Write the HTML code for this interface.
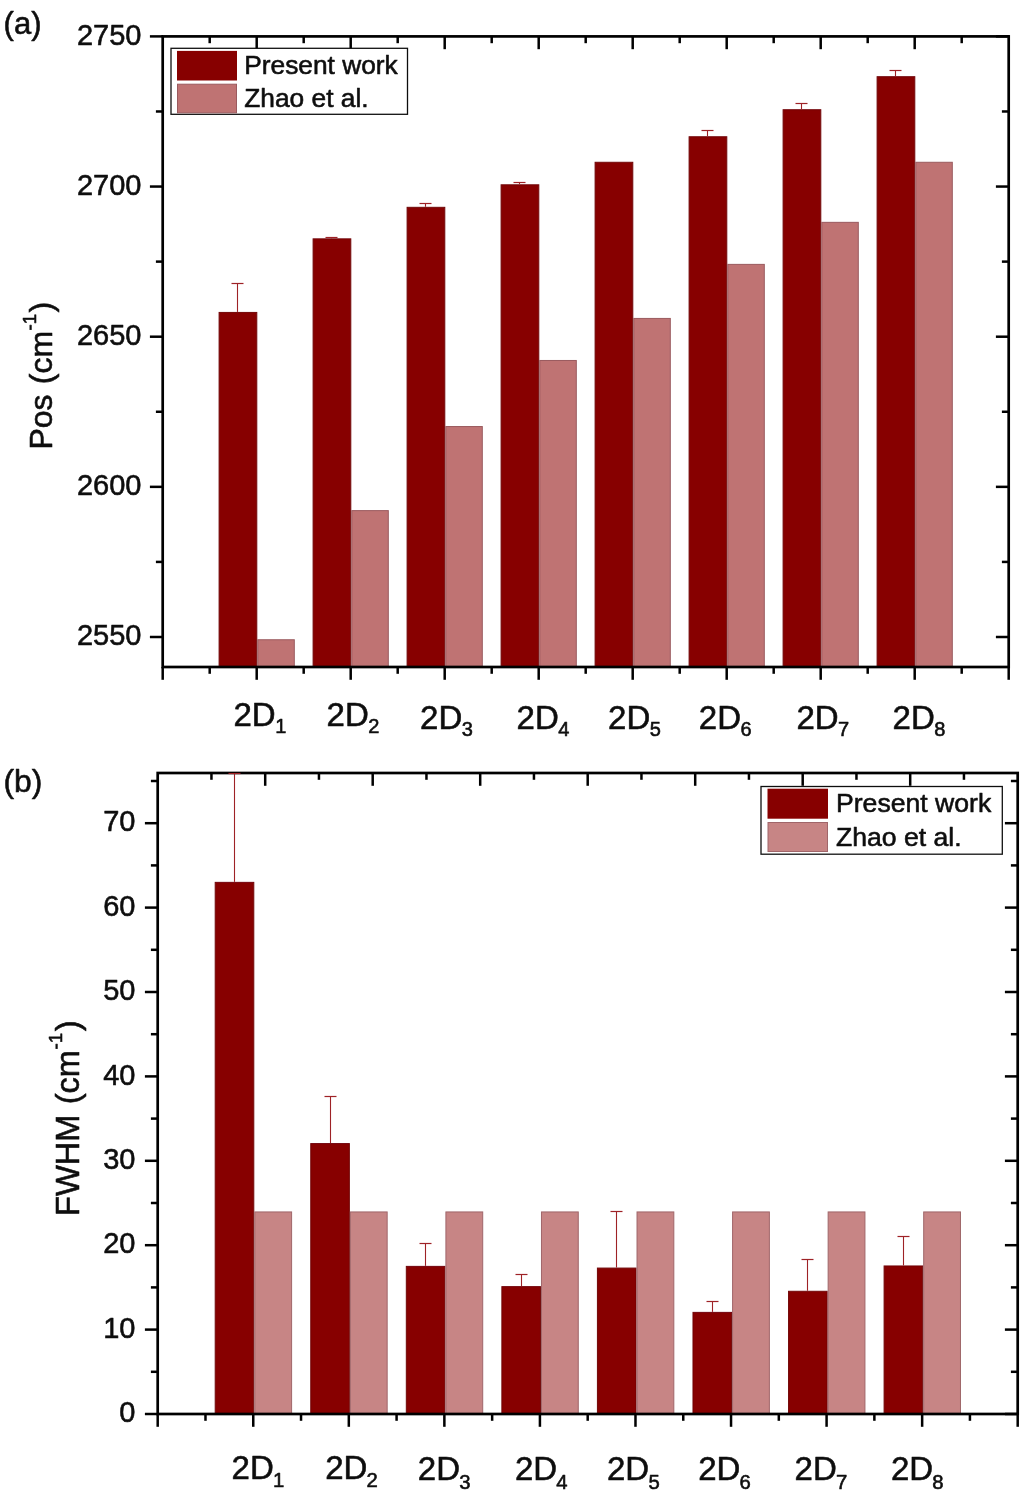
<!DOCTYPE html>
<html><head><meta charset="utf-8"><title>Figure</title>
<style>html,body{margin:0;padding:0;background:#fff;overflow:hidden}svg{display:block}text{stroke:#111;stroke-width:.6px;stroke-linejoin:round}</style></head>
<body>
<svg width="1025" height="1495" viewBox="0 0 1025 1495" font-family='"Liberation Sans", sans-serif' fill="#111">
<defs><filter id="soft" x="0" y="0" width="100%" height="100%" filterUnits="userSpaceOnUse"><feGaussianBlur stdDeviation="0.45"/></filter></defs>
<g filter="url(#soft)">
<rect x="0.00" y="0.00" width="1025.00" height="1495.00" fill="#fff" stroke="none" stroke-width="1"/>
<rect x="219.10" y="312.43" width="37.70" height="354.57" fill="#870000" stroke="#72060A" stroke-width="1"/>
<rect x="257.80" y="639.75" width="36.50" height="27.25" fill="#BF7373" stroke="#9A5A5E" stroke-width="1"/>
<rect x="313.10" y="238.85" width="37.70" height="428.15" fill="#870000" stroke="#72060A" stroke-width="1"/>
<rect x="351.80" y="510.62" width="36.50" height="156.38" fill="#BF7373" stroke="#9A5A5E" stroke-width="1"/>
<rect x="407.10" y="207.32" width="37.70" height="459.68" fill="#870000" stroke="#72060A" stroke-width="1"/>
<rect x="445.80" y="426.54" width="36.50" height="240.46" fill="#BF7373" stroke="#9A5A5E" stroke-width="1"/>
<rect x="501.10" y="184.80" width="37.70" height="482.20" fill="#870000" stroke="#72060A" stroke-width="1"/>
<rect x="539.80" y="360.47" width="36.50" height="306.53" fill="#BF7373" stroke="#9A5A5E" stroke-width="1"/>
<rect x="595.10" y="162.28" width="37.70" height="504.72" fill="#870000" stroke="#72060A" stroke-width="1"/>
<rect x="633.80" y="318.43" width="36.50" height="348.57" fill="#BF7373" stroke="#9A5A5E" stroke-width="1"/>
<rect x="689.10" y="136.75" width="37.70" height="530.25" fill="#870000" stroke="#72060A" stroke-width="1"/>
<rect x="727.80" y="264.38" width="36.50" height="402.62" fill="#BF7373" stroke="#9A5A5E" stroke-width="1"/>
<rect x="783.10" y="109.72" width="37.70" height="557.28" fill="#870000" stroke="#72060A" stroke-width="1"/>
<rect x="821.80" y="222.34" width="36.50" height="444.66" fill="#BF7373" stroke="#9A5A5E" stroke-width="1"/>
<rect x="877.10" y="76.69" width="37.70" height="590.31" fill="#870000" stroke="#72060A" stroke-width="1"/>
<rect x="915.80" y="162.28" width="36.50" height="504.72" fill="#BF7373" stroke="#9A5A5E" stroke-width="1"/>
<rect x="162.7" y="36.4" width="846.0" height="630.6" fill="none" stroke="#000" stroke-width="2.7"/>
<line x1="237.50" y1="311.93" x2="237.50" y2="283.50" stroke="#9E2228" stroke-width="1.1" />
<line x1="231.50" y1="283.50" x2="243.50" y2="283.50" stroke="#9E2228" stroke-width="1.2" />
<line x1="331.50" y1="238.35" x2="331.50" y2="237.50" stroke="#9E2228" stroke-width="1.1" />
<line x1="325.50" y1="237.50" x2="337.50" y2="237.50" stroke="#9E2228" stroke-width="1.2" />
<line x1="425.50" y1="206.82" x2="425.50" y2="203.50" stroke="#9E2228" stroke-width="1.1" />
<line x1="419.50" y1="203.50" x2="431.50" y2="203.50" stroke="#9E2228" stroke-width="1.2" />
<line x1="519.50" y1="184.30" x2="519.50" y2="182.50" stroke="#9E2228" stroke-width="1.1" />
<line x1="513.50" y1="182.50" x2="525.50" y2="182.50" stroke="#9E2228" stroke-width="1.2" />
<line x1="707.50" y1="136.25" x2="707.50" y2="130.50" stroke="#9E2228" stroke-width="1.1" />
<line x1="701.50" y1="130.50" x2="713.50" y2="130.50" stroke="#9E2228" stroke-width="1.2" />
<line x1="801.50" y1="109.22" x2="801.50" y2="103.50" stroke="#9E2228" stroke-width="1.1" />
<line x1="795.50" y1="103.50" x2="807.50" y2="103.50" stroke="#9E2228" stroke-width="1.2" />
<line x1="895.50" y1="76.19" x2="895.50" y2="70.50" stroke="#9E2228" stroke-width="1.1" />
<line x1="889.50" y1="70.50" x2="901.50" y2="70.50" stroke="#9E2228" stroke-width="1.2" />
<line x1="149.90" y1="36.40" x2="162.70" y2="36.40" stroke="#000" stroke-width="2.5" />
<line x1="995.90" y1="36.40" x2="1008.70" y2="36.40" stroke="#000" stroke-width="2.5" />
<text x="141.40" y="44.60" font-size="29" text-anchor="end" >2750</text>
<line x1="155.90" y1="111.48" x2="162.70" y2="111.48" stroke="#000" stroke-width="2.5" />
<line x1="1001.90" y1="111.48" x2="1008.70" y2="111.48" stroke="#000" stroke-width="2.5" />
<line x1="149.90" y1="186.55" x2="162.70" y2="186.55" stroke="#000" stroke-width="2.5" />
<line x1="995.90" y1="186.55" x2="1008.70" y2="186.55" stroke="#000" stroke-width="2.5" />
<text x="141.40" y="194.75" font-size="29" text-anchor="end" >2700</text>
<line x1="155.90" y1="261.62" x2="162.70" y2="261.62" stroke="#000" stroke-width="2.5" />
<line x1="1001.90" y1="261.62" x2="1008.70" y2="261.62" stroke="#000" stroke-width="2.5" />
<line x1="149.90" y1="336.70" x2="162.70" y2="336.70" stroke="#000" stroke-width="2.5" />
<line x1="995.90" y1="336.70" x2="1008.70" y2="336.70" stroke="#000" stroke-width="2.5" />
<text x="141.40" y="344.90" font-size="29" text-anchor="end" >2650</text>
<line x1="155.90" y1="411.77" x2="162.70" y2="411.77" stroke="#000" stroke-width="2.5" />
<line x1="1001.90" y1="411.77" x2="1008.70" y2="411.77" stroke="#000" stroke-width="2.5" />
<line x1="149.90" y1="486.85" x2="162.70" y2="486.85" stroke="#000" stroke-width="2.5" />
<line x1="995.90" y1="486.85" x2="1008.70" y2="486.85" stroke="#000" stroke-width="2.5" />
<text x="141.40" y="495.05" font-size="29" text-anchor="end" >2600</text>
<line x1="155.90" y1="561.92" x2="162.70" y2="561.92" stroke="#000" stroke-width="2.5" />
<line x1="1001.90" y1="561.92" x2="1008.70" y2="561.92" stroke="#000" stroke-width="2.5" />
<line x1="149.90" y1="637.00" x2="162.70" y2="637.00" stroke="#000" stroke-width="2.5" />
<line x1="995.90" y1="637.00" x2="1008.70" y2="637.00" stroke="#000" stroke-width="2.5" />
<text x="141.40" y="645.20" font-size="29" text-anchor="end" >2550</text>
<line x1="162.70" y1="667.00" x2="162.70" y2="679.80" stroke="#000" stroke-width="2.5" />
<line x1="209.70" y1="667.00" x2="209.70" y2="673.80" stroke="#000" stroke-width="2.5" />
<line x1="256.70" y1="667.00" x2="256.70" y2="679.80" stroke="#000" stroke-width="2.5" />
<line x1="303.70" y1="667.00" x2="303.70" y2="673.80" stroke="#000" stroke-width="2.5" />
<line x1="350.70" y1="667.00" x2="350.70" y2="679.80" stroke="#000" stroke-width="2.5" />
<line x1="397.70" y1="667.00" x2="397.70" y2="673.80" stroke="#000" stroke-width="2.5" />
<line x1="444.70" y1="667.00" x2="444.70" y2="679.80" stroke="#000" stroke-width="2.5" />
<line x1="491.70" y1="667.00" x2="491.70" y2="673.80" stroke="#000" stroke-width="2.5" />
<line x1="538.70" y1="667.00" x2="538.70" y2="679.80" stroke="#000" stroke-width="2.5" />
<line x1="585.70" y1="667.00" x2="585.70" y2="673.80" stroke="#000" stroke-width="2.5" />
<line x1="632.70" y1="667.00" x2="632.70" y2="679.80" stroke="#000" stroke-width="2.5" />
<line x1="679.70" y1="667.00" x2="679.70" y2="673.80" stroke="#000" stroke-width="2.5" />
<line x1="726.70" y1="667.00" x2="726.70" y2="679.80" stroke="#000" stroke-width="2.5" />
<line x1="773.70" y1="667.00" x2="773.70" y2="673.80" stroke="#000" stroke-width="2.5" />
<line x1="820.70" y1="667.00" x2="820.70" y2="679.80" stroke="#000" stroke-width="2.5" />
<line x1="867.70" y1="667.00" x2="867.70" y2="673.80" stroke="#000" stroke-width="2.5" />
<line x1="914.70" y1="667.00" x2="914.70" y2="679.80" stroke="#000" stroke-width="2.5" />
<line x1="961.70" y1="667.00" x2="961.70" y2="673.80" stroke="#000" stroke-width="2.5" />
<line x1="1008.70" y1="667.00" x2="1008.70" y2="679.80" stroke="#000" stroke-width="2.5" />
<line x1="209.70" y1="36.40" x2="209.70" y2="43.20" stroke="#000" stroke-width="2.5" />
<line x1="256.70" y1="36.40" x2="256.70" y2="49.20" stroke="#000" stroke-width="2.5" />
<line x1="303.70" y1="36.40" x2="303.70" y2="43.20" stroke="#000" stroke-width="2.5" />
<line x1="350.70" y1="36.40" x2="350.70" y2="49.20" stroke="#000" stroke-width="2.5" />
<line x1="397.70" y1="36.40" x2="397.70" y2="43.20" stroke="#000" stroke-width="2.5" />
<line x1="444.70" y1="36.40" x2="444.70" y2="49.20" stroke="#000" stroke-width="2.5" />
<line x1="491.70" y1="36.40" x2="491.70" y2="43.20" stroke="#000" stroke-width="2.5" />
<line x1="538.70" y1="36.40" x2="538.70" y2="49.20" stroke="#000" stroke-width="2.5" />
<line x1="585.70" y1="36.40" x2="585.70" y2="43.20" stroke="#000" stroke-width="2.5" />
<line x1="632.70" y1="36.40" x2="632.70" y2="49.20" stroke="#000" stroke-width="2.5" />
<line x1="679.70" y1="36.40" x2="679.70" y2="43.20" stroke="#000" stroke-width="2.5" />
<line x1="726.70" y1="36.40" x2="726.70" y2="49.20" stroke="#000" stroke-width="2.5" />
<line x1="773.70" y1="36.40" x2="773.70" y2="43.20" stroke="#000" stroke-width="2.5" />
<line x1="820.70" y1="36.40" x2="820.70" y2="49.20" stroke="#000" stroke-width="2.5" />
<line x1="867.70" y1="36.40" x2="867.70" y2="43.20" stroke="#000" stroke-width="2.5" />
<line x1="914.70" y1="36.40" x2="914.70" y2="49.20" stroke="#000" stroke-width="2.5" />
<line x1="961.70" y1="36.40" x2="961.70" y2="43.20" stroke="#000" stroke-width="2.5" />
<text x="233.50" y="726.20" font-size="33">2D<tspan font-size="20" dy="7.0" dx="-0.5">1</tspan></text>
<text x="326.60" y="726.20" font-size="33">2D<tspan font-size="20" dy="7.0" dx="-0.5">2</tspan></text>
<text x="420.10" y="728.50" font-size="33">2D<tspan font-size="20" dy="7.9" dx="-0.5">3</tspan></text>
<text x="516.60" y="728.50" font-size="33">2D<tspan font-size="20" dy="7.9" dx="-0.5">4</tspan></text>
<text x="608.10" y="728.50" font-size="33">2D<tspan font-size="20" dy="7.9" dx="-0.5">5</tspan></text>
<text x="698.80" y="728.50" font-size="33">2D<tspan font-size="20" dy="7.9" dx="-0.5">6</tspan></text>
<text x="796.40" y="728.50" font-size="33">2D<tspan font-size="20" dy="7.9" dx="-0.5">7</tspan></text>
<text x="892.60" y="728.50" font-size="33">2D<tspan font-size="20" dy="7.9" dx="-0.5">8</tspan></text>
<text transform="translate(51.6,449.6) rotate(-90)" font-size="32" text-anchor="start">Pos <tspan dx="1.3">(cm</tspan><tspan font-size="18.5" dy="-15.5" dx="0.5">-1</tspan><tspan dy="15.5" dx="1.6">)</tspan></text>
<text x="3.60" y="34.30" font-size="31" text-anchor="start" >(a)</text>
<rect x="171.00" y="48.30" width="236.50" height="66.00" fill="#fff" stroke="#111" stroke-width="1.3"/>
<rect x="177.00" y="50.90" width="60.00" height="29.60" fill="#870000" stroke="none" stroke-width="1"/>
<rect x="177.50" y="84.20" width="59.00" height="28.60" fill="#BF7373" stroke="#9A5A5E" stroke-width="1"/>
<text x="244.30" y="73.50" font-size="26.3" text-anchor="start" >Present work</text>
<text x="244.30" y="107.20" font-size="26.3" text-anchor="start" >Zhao et al.</text>
<rect x="215.20" y="882.36" width="38.60" height="531.64" fill="#870000" stroke="#72060A" stroke-width="1"/>
<rect x="254.80" y="1211.94" width="36.80" height="202.06" fill="#C78585" stroke="#A0666A" stroke-width="1"/>
<rect x="310.76" y="1143.58" width="38.60" height="270.42" fill="#870000" stroke="#72060A" stroke-width="1"/>
<rect x="350.36" y="1211.94" width="36.80" height="202.06" fill="#C78585" stroke="#A0666A" stroke-width="1"/>
<rect x="406.31" y="1266.38" width="38.60" height="147.62" fill="#870000" stroke="#72060A" stroke-width="1"/>
<rect x="445.91" y="1211.94" width="36.80" height="202.06" fill="#C78585" stroke="#A0666A" stroke-width="1"/>
<rect x="501.87" y="1286.63" width="38.60" height="127.37" fill="#870000" stroke="#72060A" stroke-width="1"/>
<rect x="541.47" y="1211.94" width="36.80" height="202.06" fill="#C78585" stroke="#A0666A" stroke-width="1"/>
<rect x="597.42" y="1268.07" width="38.60" height="145.93" fill="#870000" stroke="#72060A" stroke-width="1"/>
<rect x="637.02" y="1211.94" width="36.80" height="202.06" fill="#C78585" stroke="#A0666A" stroke-width="1"/>
<rect x="692.98" y="1312.38" width="38.60" height="101.62" fill="#870000" stroke="#72060A" stroke-width="1"/>
<rect x="732.58" y="1211.94" width="36.80" height="202.06" fill="#C78585" stroke="#A0666A" stroke-width="1"/>
<rect x="788.54" y="1291.28" width="38.60" height="122.72" fill="#870000" stroke="#72060A" stroke-width="1"/>
<rect x="828.14" y="1211.94" width="36.80" height="202.06" fill="#C78585" stroke="#A0666A" stroke-width="1"/>
<rect x="884.09" y="1265.96" width="38.60" height="148.04" fill="#870000" stroke="#72060A" stroke-width="1"/>
<rect x="923.69" y="1211.94" width="36.80" height="202.06" fill="#C78585" stroke="#A0666A" stroke-width="1"/>
<rect x="157.7" y="773" width="860.0" height="641" fill="none" stroke="#000" stroke-width="2.7"/>
<line x1="234.50" y1="881.86" x2="234.50" y2="773.50" stroke="#9E2228" stroke-width="1.1" />
<line x1="228.50" y1="773.50" x2="240.50" y2="773.50" stroke="#9E2228" stroke-width="1.2" />
<line x1="330.50" y1="1143.08" x2="330.50" y2="1096.50" stroke="#9E2228" stroke-width="1.1" />
<line x1="324.50" y1="1096.50" x2="336.50" y2="1096.50" stroke="#9E2228" stroke-width="1.2" />
<line x1="425.50" y1="1265.88" x2="425.50" y2="1243.50" stroke="#9E2228" stroke-width="1.1" />
<line x1="419.50" y1="1243.50" x2="431.50" y2="1243.50" stroke="#9E2228" stroke-width="1.2" />
<line x1="521.50" y1="1286.13" x2="521.50" y2="1274.50" stroke="#9E2228" stroke-width="1.1" />
<line x1="515.50" y1="1274.50" x2="527.50" y2="1274.50" stroke="#9E2228" stroke-width="1.2" />
<line x1="616.50" y1="1267.57" x2="616.50" y2="1211.50" stroke="#9E2228" stroke-width="1.1" />
<line x1="610.50" y1="1211.50" x2="622.50" y2="1211.50" stroke="#9E2228" stroke-width="1.2" />
<line x1="712.50" y1="1311.88" x2="712.50" y2="1301.50" stroke="#9E2228" stroke-width="1.1" />
<line x1="706.50" y1="1301.50" x2="718.50" y2="1301.50" stroke="#9E2228" stroke-width="1.2" />
<line x1="807.50" y1="1290.78" x2="807.50" y2="1259.50" stroke="#9E2228" stroke-width="1.1" />
<line x1="801.50" y1="1259.50" x2="813.50" y2="1259.50" stroke="#9E2228" stroke-width="1.2" />
<line x1="903.50" y1="1265.46" x2="903.50" y2="1236.50" stroke="#9E2228" stroke-width="1.1" />
<line x1="897.50" y1="1236.50" x2="909.50" y2="1236.50" stroke="#9E2228" stroke-width="1.2" />
<line x1="144.90" y1="1414.00" x2="157.70" y2="1414.00" stroke="#000" stroke-width="2.5" />
<line x1="1004.90" y1="1414.00" x2="1017.70" y2="1414.00" stroke="#000" stroke-width="2.5" />
<text x="135.50" y="1422.10" font-size="29" text-anchor="end" >0</text>
<line x1="150.90" y1="1371.80" x2="157.70" y2="1371.80" stroke="#000" stroke-width="2.5" />
<line x1="1010.90" y1="1371.80" x2="1017.70" y2="1371.80" stroke="#000" stroke-width="2.5" />
<line x1="144.90" y1="1329.60" x2="157.70" y2="1329.60" stroke="#000" stroke-width="2.5" />
<line x1="1004.90" y1="1329.60" x2="1017.70" y2="1329.60" stroke="#000" stroke-width="2.5" />
<text x="135.50" y="1337.70" font-size="29" text-anchor="end" >10</text>
<line x1="150.90" y1="1287.40" x2="157.70" y2="1287.40" stroke="#000" stroke-width="2.5" />
<line x1="1010.90" y1="1287.40" x2="1017.70" y2="1287.40" stroke="#000" stroke-width="2.5" />
<line x1="144.90" y1="1245.20" x2="157.70" y2="1245.20" stroke="#000" stroke-width="2.5" />
<line x1="1004.90" y1="1245.20" x2="1017.70" y2="1245.20" stroke="#000" stroke-width="2.5" />
<text x="135.50" y="1253.30" font-size="29" text-anchor="end" >20</text>
<line x1="150.90" y1="1203.00" x2="157.70" y2="1203.00" stroke="#000" stroke-width="2.5" />
<line x1="1010.90" y1="1203.00" x2="1017.70" y2="1203.00" stroke="#000" stroke-width="2.5" />
<line x1="144.90" y1="1160.80" x2="157.70" y2="1160.80" stroke="#000" stroke-width="2.5" />
<line x1="1004.90" y1="1160.80" x2="1017.70" y2="1160.80" stroke="#000" stroke-width="2.5" />
<text x="135.50" y="1168.90" font-size="29" text-anchor="end" >30</text>
<line x1="150.90" y1="1118.60" x2="157.70" y2="1118.60" stroke="#000" stroke-width="2.5" />
<line x1="1010.90" y1="1118.60" x2="1017.70" y2="1118.60" stroke="#000" stroke-width="2.5" />
<line x1="144.90" y1="1076.40" x2="157.70" y2="1076.40" stroke="#000" stroke-width="2.5" />
<line x1="1004.90" y1="1076.40" x2="1017.70" y2="1076.40" stroke="#000" stroke-width="2.5" />
<text x="135.50" y="1084.50" font-size="29" text-anchor="end" >40</text>
<line x1="150.90" y1="1034.20" x2="157.70" y2="1034.20" stroke="#000" stroke-width="2.5" />
<line x1="1010.90" y1="1034.20" x2="1017.70" y2="1034.20" stroke="#000" stroke-width="2.5" />
<line x1="144.90" y1="992.00" x2="157.70" y2="992.00" stroke="#000" stroke-width="2.5" />
<line x1="1004.90" y1="992.00" x2="1017.70" y2="992.00" stroke="#000" stroke-width="2.5" />
<text x="135.50" y="1000.10" font-size="29" text-anchor="end" >50</text>
<line x1="150.90" y1="949.80" x2="157.70" y2="949.80" stroke="#000" stroke-width="2.5" />
<line x1="1010.90" y1="949.80" x2="1017.70" y2="949.80" stroke="#000" stroke-width="2.5" />
<line x1="144.90" y1="907.60" x2="157.70" y2="907.60" stroke="#000" stroke-width="2.5" />
<line x1="1004.90" y1="907.60" x2="1017.70" y2="907.60" stroke="#000" stroke-width="2.5" />
<text x="135.50" y="915.70" font-size="29" text-anchor="end" >60</text>
<line x1="150.90" y1="865.40" x2="157.70" y2="865.40" stroke="#000" stroke-width="2.5" />
<line x1="1010.90" y1="865.40" x2="1017.70" y2="865.40" stroke="#000" stroke-width="2.5" />
<line x1="144.90" y1="823.20" x2="157.70" y2="823.20" stroke="#000" stroke-width="2.5" />
<line x1="1004.90" y1="823.20" x2="1017.70" y2="823.20" stroke="#000" stroke-width="2.5" />
<text x="135.50" y="831.30" font-size="29" text-anchor="end" >70</text>
<line x1="150.90" y1="781.00" x2="157.70" y2="781.00" stroke="#000" stroke-width="2.5" />
<line x1="1010.90" y1="781.00" x2="1017.70" y2="781.00" stroke="#000" stroke-width="2.5" />
<line x1="157.70" y1="1414.00" x2="157.70" y2="1426.80" stroke="#000" stroke-width="2.5" />
<line x1="205.48" y1="1414.00" x2="205.48" y2="1420.80" stroke="#000" stroke-width="2.5" />
<line x1="253.26" y1="1414.00" x2="253.26" y2="1426.80" stroke="#000" stroke-width="2.5" />
<line x1="301.03" y1="1414.00" x2="301.03" y2="1420.80" stroke="#000" stroke-width="2.5" />
<line x1="348.81" y1="1414.00" x2="348.81" y2="1426.80" stroke="#000" stroke-width="2.5" />
<line x1="396.59" y1="1414.00" x2="396.59" y2="1420.80" stroke="#000" stroke-width="2.5" />
<line x1="444.37" y1="1414.00" x2="444.37" y2="1426.80" stroke="#000" stroke-width="2.5" />
<line x1="492.15" y1="1414.00" x2="492.15" y2="1420.80" stroke="#000" stroke-width="2.5" />
<line x1="539.92" y1="1414.00" x2="539.92" y2="1426.80" stroke="#000" stroke-width="2.5" />
<line x1="587.70" y1="1414.00" x2="587.70" y2="1420.80" stroke="#000" stroke-width="2.5" />
<line x1="635.48" y1="1414.00" x2="635.48" y2="1426.80" stroke="#000" stroke-width="2.5" />
<line x1="683.26" y1="1414.00" x2="683.26" y2="1420.80" stroke="#000" stroke-width="2.5" />
<line x1="731.04" y1="1414.00" x2="731.04" y2="1426.80" stroke="#000" stroke-width="2.5" />
<line x1="778.81" y1="1414.00" x2="778.81" y2="1420.80" stroke="#000" stroke-width="2.5" />
<line x1="826.59" y1="1414.00" x2="826.59" y2="1426.80" stroke="#000" stroke-width="2.5" />
<line x1="874.37" y1="1414.00" x2="874.37" y2="1420.80" stroke="#000" stroke-width="2.5" />
<line x1="922.15" y1="1414.00" x2="922.15" y2="1426.80" stroke="#000" stroke-width="2.5" />
<line x1="969.93" y1="1414.00" x2="969.93" y2="1420.80" stroke="#000" stroke-width="2.5" />
<line x1="1017.70" y1="1414.00" x2="1017.70" y2="1426.80" stroke="#000" stroke-width="2.5" />
<line x1="211.45" y1="773.00" x2="211.45" y2="779.80" stroke="#000" stroke-width="2.5" />
<line x1="265.20" y1="773.00" x2="265.20" y2="785.80" stroke="#000" stroke-width="2.5" />
<line x1="318.95" y1="773.00" x2="318.95" y2="779.80" stroke="#000" stroke-width="2.5" />
<line x1="372.70" y1="773.00" x2="372.70" y2="785.80" stroke="#000" stroke-width="2.5" />
<line x1="426.45" y1="773.00" x2="426.45" y2="779.80" stroke="#000" stroke-width="2.5" />
<line x1="480.20" y1="773.00" x2="480.20" y2="785.80" stroke="#000" stroke-width="2.5" />
<line x1="533.95" y1="773.00" x2="533.95" y2="779.80" stroke="#000" stroke-width="2.5" />
<line x1="587.70" y1="773.00" x2="587.70" y2="785.80" stroke="#000" stroke-width="2.5" />
<line x1="641.45" y1="773.00" x2="641.45" y2="779.80" stroke="#000" stroke-width="2.5" />
<line x1="695.20" y1="773.00" x2="695.20" y2="785.80" stroke="#000" stroke-width="2.5" />
<line x1="748.95" y1="773.00" x2="748.95" y2="779.80" stroke="#000" stroke-width="2.5" />
<line x1="802.70" y1="773.00" x2="802.70" y2="785.80" stroke="#000" stroke-width="2.5" />
<line x1="856.45" y1="773.00" x2="856.45" y2="779.80" stroke="#000" stroke-width="2.5" />
<line x1="910.20" y1="773.00" x2="910.20" y2="785.80" stroke="#000" stroke-width="2.5" />
<line x1="963.95" y1="773.00" x2="963.95" y2="779.80" stroke="#000" stroke-width="2.5" />
<text x="231.60" y="1478.60" font-size="33">2D<tspan font-size="20.3" dy="8.1" dx="-0.8">1</tspan></text>
<text x="325.20" y="1478.60" font-size="33">2D<tspan font-size="20.3" dy="8.1" dx="-0.8">2</tspan></text>
<text x="417.80" y="1480.20" font-size="33">2D<tspan font-size="20.3" dy="8.5" dx="-0.8">3</tspan></text>
<text x="514.90" y="1480.20" font-size="33">2D<tspan font-size="20.3" dy="8.5" dx="-0.8">4</tspan></text>
<text x="607.00" y="1480.20" font-size="33">2D<tspan font-size="20.3" dy="8.5" dx="-0.8">5</tspan></text>
<text x="698.20" y="1480.20" font-size="33">2D<tspan font-size="20.3" dy="8.5" dx="-0.8">6</tspan></text>
<text x="794.60" y="1480.20" font-size="33">2D<tspan font-size="20.3" dy="8.5" dx="-0.8">7</tspan></text>
<text x="890.90" y="1480.20" font-size="33">2D<tspan font-size="20.3" dy="8.5" dx="-0.8">8</tspan></text>
<text transform="translate(78.6,1216.0) rotate(-90)" font-size="32.6" text-anchor="start">FWHM <tspan dx="1.3">(cm</tspan><tspan font-size="18.8" dy="-16.5" dx="0.5">-1</tspan><tspan dy="16.5" dx="1.6">)</tspan></text>
<text x="3.40" y="791.60" font-size="31.8" text-anchor="start" >(b)</text>
<rect x="761.00" y="786.50" width="241.30" height="67.70" fill="#fff" stroke="#111" stroke-width="1.3"/>
<rect x="767.50" y="788.70" width="60.50" height="30.00" fill="#870000" stroke="none" stroke-width="1"/>
<rect x="768.00" y="822.50" width="59.50" height="29.00" fill="#C78585" stroke="#A0666A" stroke-width="1"/>
<text x="836.00" y="812.00" font-size="26.6" text-anchor="start" >Present work</text>
<text x="836.00" y="845.80" font-size="26.6" text-anchor="start" >Zhao et al.</text>
</g>
</svg>
</body></html>
